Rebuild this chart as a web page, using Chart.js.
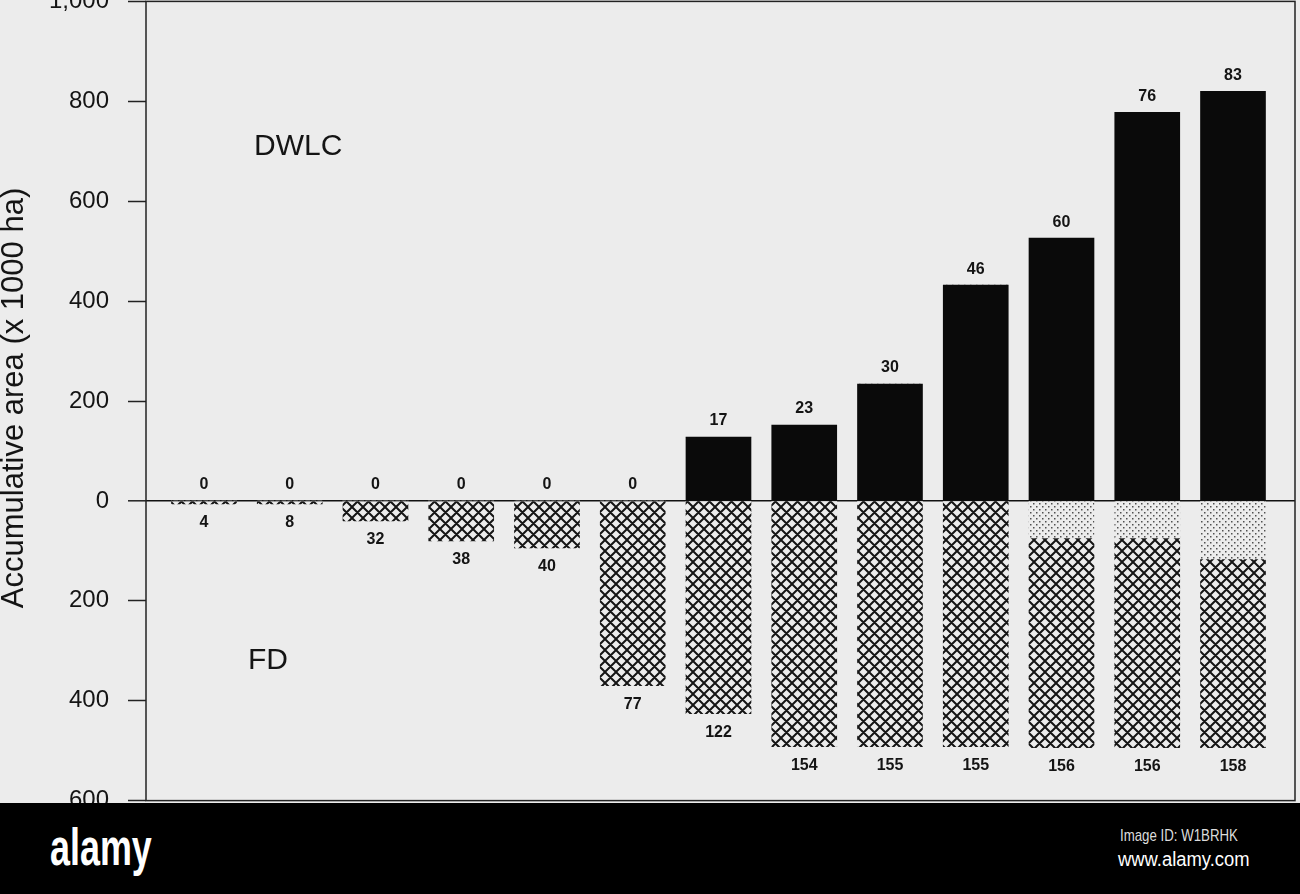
<!DOCTYPE html>
<html>
<head>
<meta charset="utf-8">
<script src="https://cdn.jsdelivr.net/npm/chart.js@4.4.1/dist/chart.umd.min.js"></script>
<style>
  html, body { margin: 0; padding: 0; background: #ececec; width: 1300px; height: 894px; overflow: hidden; position: relative; }
  #wrap { position: absolute; left: 0; top: -32px; width: 1300px; height: 866px; }
  #band { position: absolute; left: 0; top: 803px; width: 1300px; height: 91px; background: #000; z-index: 2; overflow: hidden; }
  #logo { position: absolute; left: 50px; top: 18px; font: bold 52px/52px "Liberation Sans", Arial, sans-serif; color: #fff; transform: scaleX(0.69); transform-origin: left top; white-space: nowrap; }
  #iid { position: absolute; left: 1120px; top: 24px; font: 17px/17px "Liberation Sans", Arial, sans-serif; color: #dcdcdc; transform: scaleX(0.78); transform-origin: left top; white-space: nowrap; }
  #www { position: absolute; left: 1118px; top: 46px; font: 20px/20px "Liberation Sans", Arial, sans-serif; color: #fff; transform: scaleX(0.92); transform-origin: left top; white-space: nowrap; }
</style>
</head>
<body>
<div id="wrap"><canvas id="c" width="1300" height="866" style="width:1300px;height:866px"></canvas></div>
<div id="band">
  <div id="logo">alamy</div>
  <div id="iid">Image ID: W1BRHK</div>
  <div id="www">www.alamy.com</div>
</div>
<script>
// ---- data ----
const categories = [1, 2, 3, 4, 5, 6, 7, 8, 9, 10, 11, 12, 13];
// DWLC accumulative area (x 1000 ha), drawn above zero
const dwlcArea = [0, 0, 0, 0, 0, 0, 128, 152, 234, 432, 526, 778, 820];
// numbers printed above the DWLC bars
const dwlcCounts = [0, 0, 0, 0, 0, 0, 17, 23, 30, 46, 60, 76, 83];
// FD accumulative area (x 1000 ha), drawn below zero: dotted part and cross-hatched part
const fdDottedArea = [0, 0, 0, 0, 0, 0, 0, 0, 0, 0, 74, 74, 116];
const fdHatchedArea = [6, 6, 40, 80, 94, 370, 426, 492, 492, 492, 420, 420, 378];
// numbers printed below the FD bars
const fdCounts = [4, 8, 32, 38, 40, 77, 122, 154, 155, 155, 156, 156, 158];
// y-axis tick labels (value -> text)
const yTickValues = [-600, -400, -200, 0, 200, 400, 600, 800, 1000];
const yTickTexts = ['600', '400', '200', '0', '200', '400', '600', '800', '1,000'];
const yTitle = 'Accumulative area (x 1000 ha)';
const upperLabel = 'DWLC';
const lowerLabel = 'FD';

const PAPER = '#ececec';
const INK = '#141414';

const canvas = document.getElementById('c');
const ctx = canvas.getContext('2d');

function hatchPattern() {
  const s = 11;
  const c = document.createElement('canvas');
  c.width = s; c.height = s;
  const g = c.getContext('2d');
  g.fillStyle = PAPER; g.fillRect(0, 0, s, s);
  g.strokeStyle = '#151515'; g.lineWidth = 2;
  g.beginPath();
  for (const k of [-1, 0, 1]) {
    g.moveTo(k * s, 0); g.lineTo(k * s + s, s);
    g.moveTo(k * s + s, 0); g.lineTo(k * s, s);
  }
  g.stroke();
  return ctx.createPattern(c, 'repeat');
}
function dotPattern() {
  const s = 6;
  const c = document.createElement('canvas');
  c.width = s; c.height = s;
  const g = c.getContext('2d');
  g.fillStyle = PAPER; g.fillRect(0, 0, s, s);
  g.fillStyle = '#505050';
  g.fillRect(1, 1, 1.5, 1.5);
  g.fillRect(4, 4, 1.5, 1.5);
  return ctx.createPattern(c, 'repeat');
}

const toXY = arr => arr.map((v, i) => ({ x: i, y: v }));
const neg = arr => arr.map(v => -v);

const decorPlugin = {
  id: 'decor',
  afterDatasetsDraw(chart) {
    const c = chart.ctx;
    const a = chart.chartArea;
    const m0 = chart.getDatasetMeta(0);
    const m2 = chart.getDatasetMeta(2);
    c.save();
    c.fillStyle = INK;
    c.font = 'bold 16px "Liberation Sans", Arial, sans-serif';
    c.textAlign = 'center';
    c.textBaseline = 'middle';
    categories.forEach((cat, i) => {
      const top = m0.data[i];
      const bot = m2.data[i];
      c.fillText(String(dwlcCounts[i]), top.x, top.y - 16);
      c.fillText(String(fdCounts[i]), bot.x, bot.y + 19);
    });
    // frame
    c.strokeStyle = '#222';
    c.lineWidth = 1.5;
    c.strokeRect(a.left, a.top, a.right - a.left, a.bottom - a.top);
    // in-plot labels
    c.font = '30px "Liberation Sans", Arial, sans-serif';
    c.textAlign = 'left';
    c.textBaseline = 'alphabetic';
    c.fillStyle = INK;
    c.fillText(upperLabel, a.left + 108, a.top + 154);
    c.fillText(lowerLabel, a.left + 102, a.top + 668);
    // y-axis title
    c.save();
    c.translate(23, (a.top + a.bottom) / 2 - 3);
    c.rotate(-Math.PI / 2);
    c.textAlign = 'center';
    c.font = '31px "Liberation Sans", Arial, sans-serif';
    c.fillText(yTitle, 0, 0);
    c.restore();
    c.restore();
  }
};

new Chart(ctx, {
  type: 'bar',
  data: {
    labels: categories,
    datasets: [
      { label: 'DWLC', data: toXY(dwlcArea), backgroundColor: '#0a0a0a' },
      { label: 'FD (dotted)', data: toXY(neg(fdDottedArea)), backgroundColor: dotPattern() },
      { label: 'FD', data: toXY(neg(fdHatchedArea)), backgroundColor: hatchPattern() }
    ]
  },
  options: {
    responsive: false,
    animation: false,
    devicePixelRatio: 1,
    layout: { padding: { top: 9, bottom: 7, left: 0, right: 5 } },
    datasets: { bar: { barThickness: 65, borderWidth: 0 } },
    plugins: { legend: { display: false }, tooltip: { enabled: false } },
    scales: {
      x: { type: 'linear', min: -0.676, max: 12.723, offset: false, grid: { offset: false }, stacked: true, display: false },
      y: {
        stacked: true,
        min: -600, max: 1000,
        afterFit(s) { s.width = 146; },
        afterBuildTicks(s) { s.ticks = yTickValues.map(v => ({ value: v })); },
        ticks: {
          padding: 19,
          color: INK,
          font: { family: '"Liberation Sans", Arial, sans-serif', size: 24 },
          callback(v) { const k = yTickValues.indexOf(v); return k >= 0 ? yTickTexts[k] : ''; }
        },
        grid: {
          drawOnChartArea: true,
          color: c => (c.tick && c.tick.value === 0) ? '#111' : 'rgba(0,0,0,0)',
          lineWidth: c => (c.tick && c.tick.value === 0) ? 1.6 : 1,
          tickLength: 18,
          tickColor: '#222',
          tickWidth: 1.5
        },
        border: { display: false }
      }
    }
  },
  plugins: [decorPlugin]
});
</script>
</body>
</html>
